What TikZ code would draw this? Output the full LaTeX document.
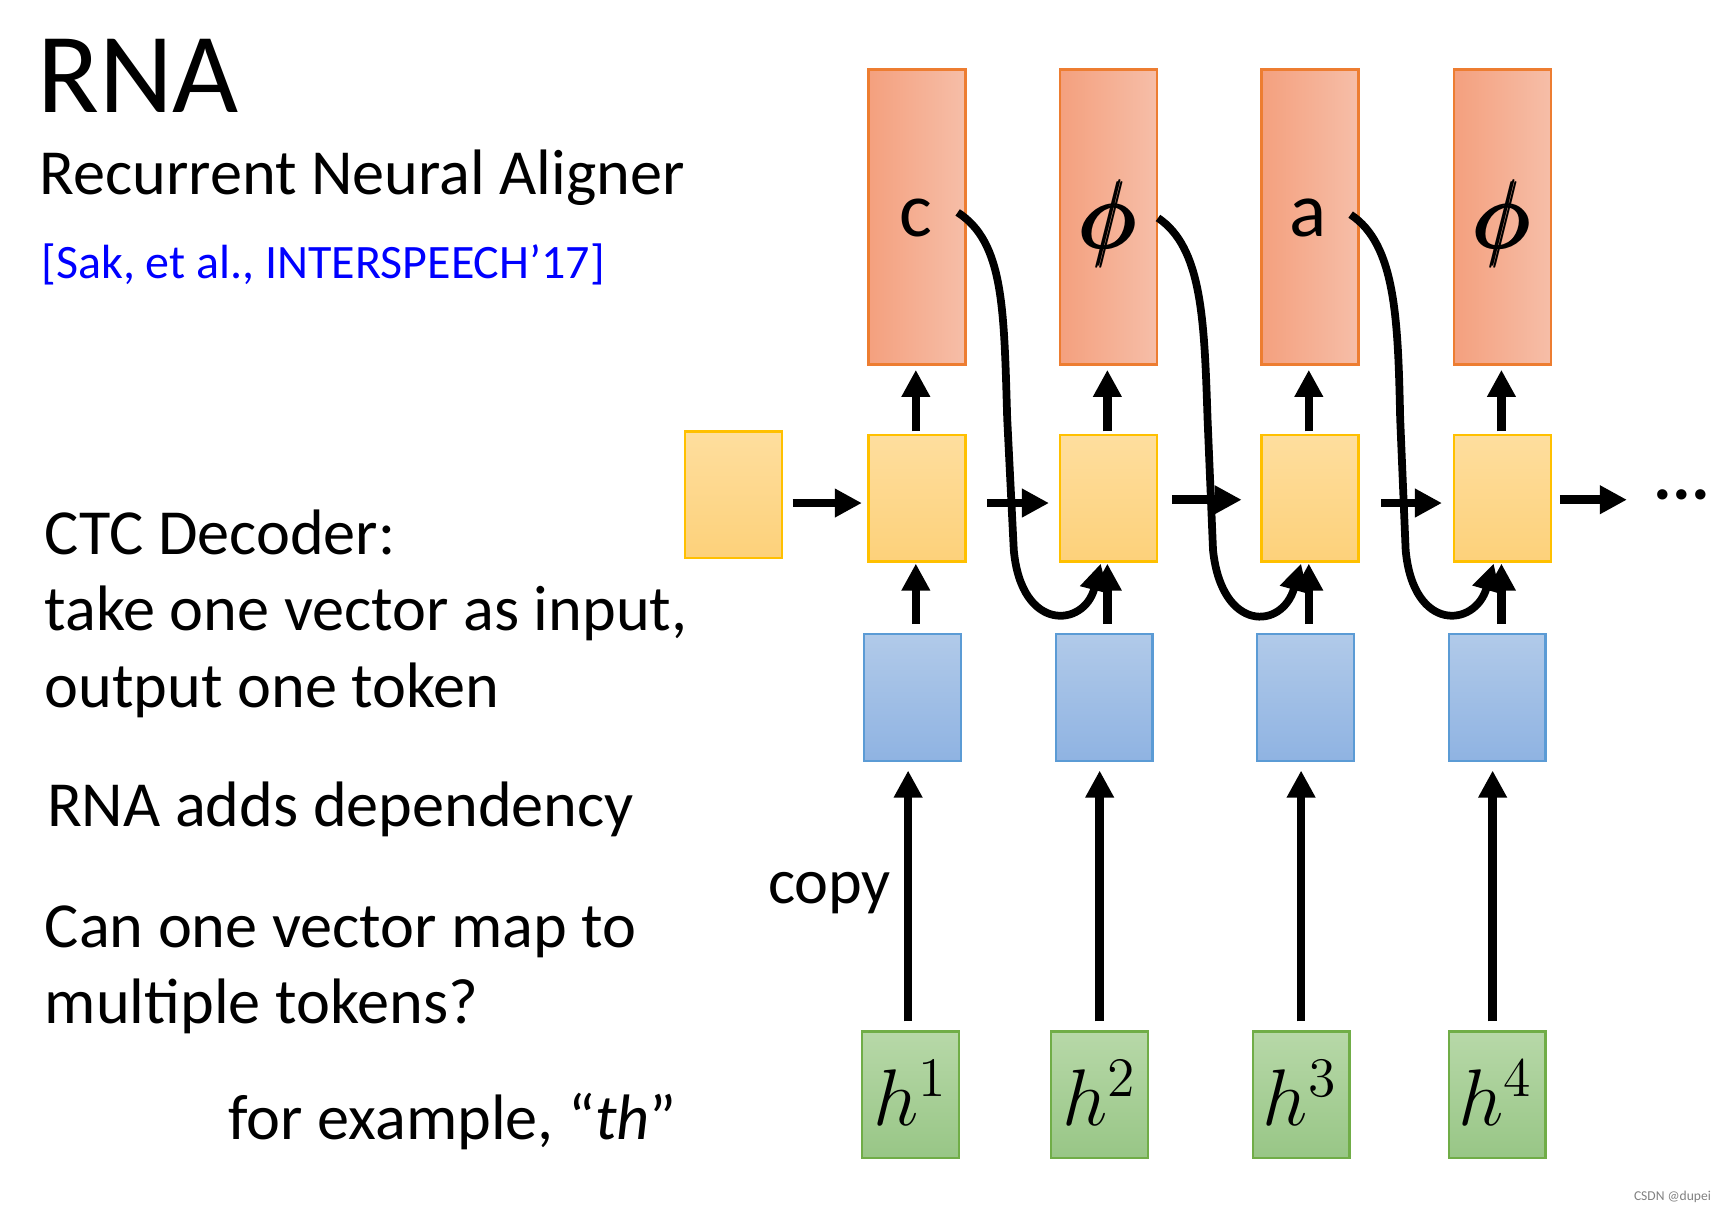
\documentclass[tikz,border=0pt]{standalone}
\usepackage{amsmath,amsbsy}
\usepackage{fontspec}
\setmainfont{Carlito}
\usetikzlibrary{arrows.meta}
\definecolor{redA}{HTML}{F4A07E}\definecolor{redB}{HTML}{F6BEA8}\definecolor{redE}{HTML}{ED7D31}
\definecolor{yelA}{HTML}{FEDE9E}\definecolor{yelB}{HTML}{FDD17A}\definecolor{yelE}{HTML}{FFC000}
\definecolor{bluA}{HTML}{B1CAE9}\definecolor{bluB}{HTML}{8FB3E2}\definecolor{bluE}{HTML}{5B9BD5}
\definecolor{grnA}{HTML}{B7D8A8}\definecolor{grnB}{HTML}{98C686}\definecolor{grnE}{HTML}{70AD47}
\definecolor{cite}{HTML}{0000FF}
\begin{document}
\begin{tikzpicture}[x=0.01cm,y=-0.01cm,
 box/.style={draw,line width=0.6pt,minimum width=0.88cm,minimum height=1.15cm,inner sep=0,anchor=north west},
 red/.style={box,draw=redE,left color=redA,right color=redB,minimum height=2.68cm},
 yel/.style={box,draw=yelE,top color=yelA,bottom color=yelB},
 blu/.style={box,draw=bluE,top color=bluA,bottom color=bluB},
 grn/.style={box,draw=grnE,top color=grnA,bottom color=grnB},
 arr/.style={-{Triangle[length=7pt,width=7pt]},line width=2.2pt},
 cur/.style={-{Triangle[length=7pt,width=7pt]},line width=2pt},
 txt/.style={anchor=base west,inner sep=0,font=\fontsize{16.6pt}{19pt}\selectfont}]
\useasboundingbox (0,0) rectangle (1568,1101);
% boxes
\foreach \i/\xr/\xb/\xg in {1/788/784/782,2/962/958/954,3/1145/1141/1137,4/1320/1315/1315}{
 \node[red] (r\i) at (\xr,62) {};
 \node[yel] (y\i) at (\xr,394) {};
 \node[blu] (b\i) at (\xb,575) {};
 \node[grn] (g\i) at (\xg,936) {};
}
\node[yel] (y0) at (621,391) {};
% labels
\node[font=\fontsize{20pt}{22pt}\selectfont] at (832,198) {c};
\node[font=\fontsize{20pt}{22pt}\selectfont] at (1188,198) {a};
\node[font=\fontsize{23pt}{26pt}\selectfont] at (1008,203) {$\pmb{\phi}$};
\node[font=\fontsize{23pt}{26pt}\selectfont] at (1366,203) {$\pmb{\phi}$};
\foreach \i/\x in {1/827,2/999,3/1181,4/1359}
 \node[font=\fontsize{21pt}{24pt}\selectfont] at (\x,993) {$h^{\i}$};
% vertical arrows
\foreach \i/\x/\xl in {1/832/825,2/1006/999,3/1189/1182,4/1364/1356}{
 \draw[arr] (\x,392) -- (\x,336);
 \draw[arr] (\x,567) -- (\x,512);
 \draw[arr] (\xl,928) -- (\xl,700);
}
% horizontal arrows
\draw[arr] (720,457) -- (783,457);
\draw[arr] (897,457) -- (953,457);
\draw[arr] (1065,454) -- (1128,454);
\draw[arr] (1255,457) -- (1310,457);
\draw[arr] (1417,454) -- (1478,454);
\node[anchor=west,font=\fontsize{18pt}{20pt}\bfseries\selectfont] (dots) at (1490,450) {...};
% curves
\draw[cur] (870,193) .. controls (912,220) and (912,280) .. (915,380) -- (921,500) .. controls (928,575) and (985,570) .. (1000,512);
\draw[cur] (1052,198) .. controls (1092,225) and (1094,290) .. (1097,380) -- (1102,500) .. controls (1110,575) and (1165,572) .. (1182,512);
\draw[cur] (1227,195) .. controls (1268,222) and (1270,290) .. (1272,380) -- (1277,500) .. controls (1284,575) and (1340,570) .. (1357,512);
% texts
\node[txt,font=\fontsize{29.5pt}{34pt}\selectfont] at (33,102) {RNA};
\node[txt] at (35,177) {Recurrent Neural Aligner};
\node[txt,text=cite,font=\fontsize{12.4pt}{14pt}\selectfont] at (37,253) {[Sak, et al., INTERSPEECH’17]};
\node[txt] at (40,504) {CTC Decoder:};
\node[txt] at (40,573) {take one vector as input,};
\node[txt] at (40,643) {output one token};
\node[txt] at (42,751) {RNA adds dependency};
\node[txt] at (40,861) {Can one vector map to};
\node[txt] at (40,930) {multiple tokens?};
\node[txt] at (207,1035) {for example, “\textit{th}”};
\node[txt] at (697,821) {copy};
\node[anchor=east,inner sep=0,text=gray,font=\fontsize{3.5pt}{4pt}\selectfont] at (1555,1087) {CSDN @dupei};
\end{tikzpicture}
\end{document}
